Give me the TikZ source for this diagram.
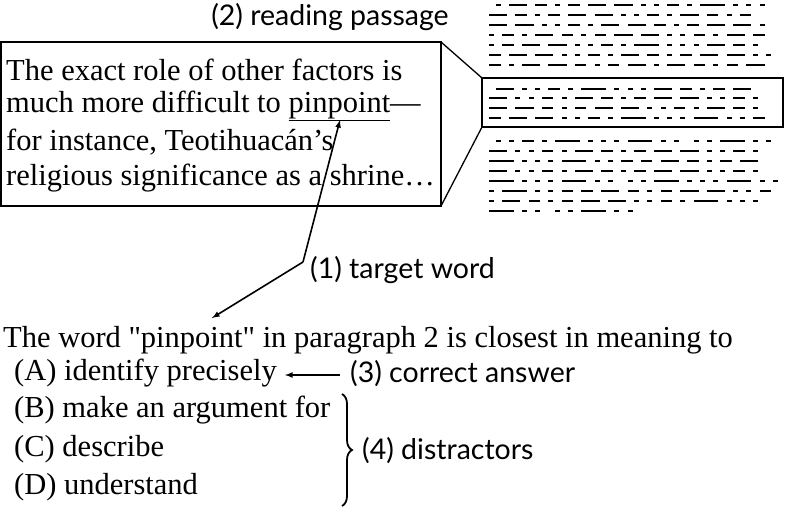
\documentclass[tikz,border=0pt]{standalone}
\usepackage{fontspec}
\setmainfont{Liberation Serif}
\newfontfamily\lab{Lato}
\usetikzlibrary{decorations.pathreplacing}
\newcommand\dline[3]{%
  \gdef\cx{#1}%
  \foreach \n in {#3}{%
    \ifnum\n>0 \fill (\cx,#2-1.3) rectangle ++(\n*6.6-1.6,2.6);\fi
    \pgfmathsetmacro\tx{\cx+(\n+1)*6.6}\xdef\cx{\tx}}}
\begin{document}
\begin{tikzpicture}[x=1pt,y=-1pt,
  lbl/.style={font=\lab\fontsize{28.5}{30}\selectfont,anchor=west,inner sep=0},
  txt/.style={font=\fontsize{30.5}{36}\selectfont,anchor=west,inner sep=0},
  ln/.style={line width=2.5pt}]
\useasboundingbox (0,0) rectangle (785,509);
\node[lbl,anchor=center] (rp) at (330,17) {(2) reading passage};
\draw[ln] (1,42) rectangle (441,206);
\coordinate (b1) at (441,42); \coordinate (b2) at (441,206);
\node[txt] (l1) at (6,70) {The exact role of other factors is};
\node[txt] (l2) at (6,106) {much more difficult to \underline{pinpoint}—};
\node[txt] (l3) at (6,142) {for instance, Teotihuac\'an's};
\node[txt] (l4) at (6,178) {religious significance as a shrine\ldots};
\draw[ln] (482,78) rectangle (783,127);
\coordinate (r1) at (482,78); \coordinate (r2) at (482,127);
\draw[line width=1.3pt] (b1) -- (r1) (b2) -- (r2);
\dline{489}{5}{0,1,3,2,1,2,3,3,1,1,2,1,4,1,1,1}
\dline{489}{15}{3,2,1,2,3,3,1,1,2,1,3,2,1,2}
\dline{489}{25}{3,3,1,1,2,1,3,3,2,1,2,3,3,1}
\dline{489}{35}{1,2,1,3,2,1,2,3,3,1,1,2,1,3,2}
\dline{489}{45}{1,2,3,3,1,1,2,1,4,1,1,1,3,2,1}
\dline{489}{55}{2,3,3,1,1,2,1,3,2,1,2,3,3,1,1}
\dline{489}{65}{2,1,3,3,2,1,2,3,1,3,2,1,2,3}
\dline{489}{89}{0,3,1,1,2,1,4,1,1,1,3,2,1,2,3}
\dline{489}{98}{3,1,1,2,1,3,2,1,2,3,3,1,1,2,1}
\dline{489}{108}{3,3,2,1,2,3,3,1,1,2,1,3,2,1}
\dline{489}{118}{2,3,3,1,1,2,1,4,1,1,1,4,1,1,2}
\dline{489}{141}{0,1,1,2,1,4,1,1,1,4,1,1,0,1,1,4,1,1}
\dline{489}{151}{3,1,1,2,1,3,2,1,2,3,3,1,1,2,1}
\dline{489}{161}{4,1,1,1,4,1,1,2,2,3,2,1,2,3}
\dline{489}{171}{3,1,1,2,1,3,2,1,2,3,3,1,1,2,1}
\dline{489}{181}{4,1,1,1,4,1,1,0,1,1,4,1,1,1,4,1,1}
\dline{489}{191}{1,4,1,1,2,2,3,2,1,2,3,3,1,1,2}
\dline{489}{201}{1,3,2,1,2,3,3,1,1,2,1,4,1,1,1}
\dline{489}{211}{4,1,1,0,1,1,4,1,1}
\node[lbl] (tw) at (310,270) {(1) target word};
\node[txt] (q) at (3,340) {The word \textquotedbl pinpoint\textquotedbl\ in paragraph 2 is closest in meaning to};
\node[txt] (oa) at (14,373) {(A) identify precisely};
\node[txt] (ob) at (14,410) {(B) make an argument for};
\node[txt] (oc) at (14,449) {(C) describe};
\node[txt] (od) at (14,487) {(D) understand};
\coordinate (j) at (303,262);
\draw[line width=1.6pt,-latex] (j) -- (340,120);
\draw[line width=1.6pt,-latex] (j) -- (212,318);
\node[lbl] (ca) at (350,374) {(3) correct answer};
\draw[line width=1.6pt,-latex] (340,375) -- (285,375);
\draw[line width=1.8pt,decorate,decoration={brace,amplitude=10pt}] (342,394) -- (342,506);
\node[lbl] (ds) at (362,451) {(4) distractors};
\end{tikzpicture}
\end{document}
